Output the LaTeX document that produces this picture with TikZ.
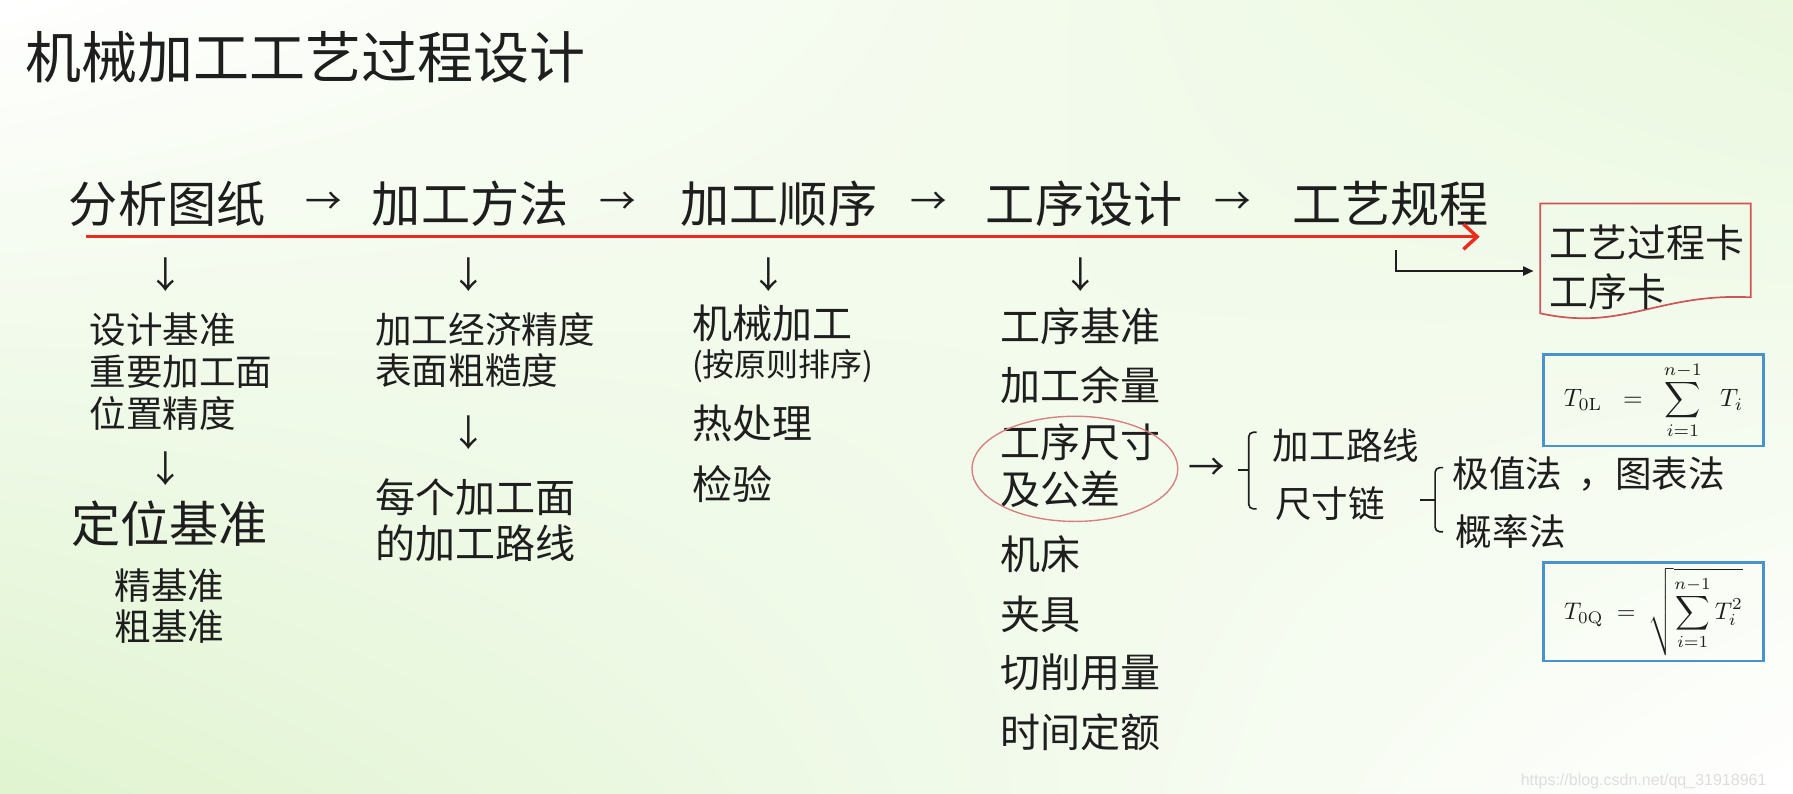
\documentclass[tikz,border=0pt]{standalone}
\usepackage{graphicx}
\usepackage[no-math]{fontspec}
\setmainfont{Noto Sans CJK SC}
\newfontfamily\urlfont{Liberation Sans}
\usetikzlibrary{arrows.meta,shapes.geometric,shadings}

\definecolor{ink}{RGB}{30,30,30}
\definecolor{bggreen}{RGB}{224,244,208}
\definecolor{bgtint}{RGB}{234,248,222}
\definecolor{flowred}{RGB}{236,42,30}
\definecolor{cardred}{RGB}{205,85,85}
\definecolor{ringred}{RGB}{214,128,128}
\definecolor{formblue}{RGB}{72,146,206}

\begin{document}
\begin{tikzpicture}[
  x=1pt, y=-1pt,
  txt/.style={anchor=west, inner sep=0pt, text=ink},
  title/.style={txt, font=\fontsize{49}{56}\selectfont},
  head/.style={txt, font=\fontsize{43}{50}\selectfont},
  mid/.style={txt, font=\fontsize{35}{40}\selectfont},
  item/.style={txt, font=\fontsize{32}{37}\selectfont},
  note/.style={txt, font=\fontsize{28}{32}\selectfont},
  sign/.style={inner sep=0pt, text=ink, font=\fontsize{32}{36}\selectfont},
  flow/.style={draw=flowred, line width=3pt, -{Straight Barb[length=12pt, width=22pt, line width=3pt]}},
  elbow/.style={draw=ink, line width=1.3pt, -{Triangle[length=9pt, width=8pt]}},
  brace/.style={draw=ink, line width=1.4pt, rounded corners=4pt},
  ring/.style={ellipse, draw=ringred, line width=1.2pt, minimum width=180pt, minimum height=92pt, inner sep=0pt},
  formula/.style={draw=formblue, line width=2.2pt, minimum width=192pt, inner sep=0pt, text=ink},
  card/.style={draw=cardred, line width=1.5pt}
]
\useasboundingbox (0,0) rectangle (1568,694);
\shade[upper left=white, upper right=bgtint, lower left=bggreen, lower right=white] (0,0) rectangle (1568,694);

\node[title] (title) at (22,50) {机械加工工艺过程设计};

% main flow
\node[head] (drawing) at (60,178) {分析图纸};
\node[head] (method)  at (325,178) {加工方法};
\node[head] (order)   at (595,178) {加工顺序};
\node[head] (process) at (862,178) {工序设计};
\node[head] (plan)    at (1130,178) {工艺规程};
\node[sign] (next1) at (283,178) {→};
\node[sign] (next2) at (540,178) {→};
\node[sign] (next3) at (812,178) {→};
\node[sign] (next4) at (1078,178) {→};

\coordinate (flowstart) at (75,207);
\coordinate (flowend) at (1294,207);
\draw[flow] (flowstart) -- (flowend);

\node[sign] (down1) at (145,240) {↓};
\node[sign] (down2) at (410,240) {↓};
\node[sign] (down3) at (672,240) {↓};
\node[sign] (down4) at (945,240) {↓};

% datum column
\node[item] (design)   at (78,288) {设计基准};
\node[item] (keyface)  at (78,325) {重要加工面};
\node[item] (position) at (78,362) {位置精度};
\node[sign] (down5) at (145,410) {↓};
\node[head] (locate) at (62,458) {定位基准};
\node[item] (fine)  at (100,512) {精基准};
\node[item] (rough) at (100,548) {粗基准};

% method column
\node[item] (economy)   at (328,288) {加工经济精度};
\node[item] (roughness) at (328,324) {表面粗糙度};
\node[sign] (down6) at (410,378) {↓};
\node[mid] (each)  at (328,435) {每个加工面};
\node[mid] (route) at (328,475) {的加工路线};

% order column
\node[mid]  (machining) at (605,283) {机械加工};
\node[note] (rule)      at (605,320) {(按原则排序)};
\node[mid]  (heat)      at (605,370) {热处理};
\node[mid]  (check)     at (605,423) {检验};

% operation column
\node[mid] (opdatum)  at (875,285) {工序基准};
\node[mid] (allow)    at (875,337) {加工余量};
\node[mid] (opsize)   at (875,387) {工序尺寸};
\node[mid] (optol)    at (875,428) {及公差};
\node[mid] (machine)  at (875,485) {机床};
\node[mid] (fixture)  at (875,537) {夹具};
\node[mid] (cutting)  at (875,588) {切削用量};
\node[mid] (timing)   at (875,640) {时间定额};
\node[ring] (sizering) at (940,410) {};

\node[sign] (next5) at (1055,410) {→};
\draw[brace] (1099,378) -- (1092,378) -- (1092,445) -- (1099,445);
\draw[brace] (1083,411) -- (1092,411);
\node[item] (chainroute) at (1113,390) {加工路线};
\node[item] (chain)      at (1115,440) {尺寸链};

\draw[brace] (1262,409) -- (1255,409) -- (1255,465) -- (1262,465);
\draw[brace] (1242,437) -- (1255,437);
\node[item] (extreme) at (1270,415) {极值法\hspace{.45em}，图表法};
\node[item] (prob)    at (1273,465) {概率法};

% tolerance formulas
\node[formula, minimum height=80pt] (sumtol) at (1446,350)
  {\scalebox{2.2}{$T_{0\mathrm{L}}\;\;=\;\;\displaystyle\sum_{i=1}^{n-1}\;\;T_i$}};
\node[formula, minimum height=86pt] (rsstol) at (1446,535)
  {\scalebox{2.1}{$T_{0\mathrm{Q}}\;=\;\sqrt{\displaystyle\sum_{i=1}^{n-1}T_i^2}$}};

% process card
\draw[card] (1347,178) -- (1531,178) -- (1531,260)
  .. controls (1450,256) and (1420,290) .. (1347,274) -- cycle;
\node[item, font=\fontsize{34}{40}\selectfont] (cardname) at (1355,212) {工艺过程卡};
\node[item, font=\fontsize{34}{40}\selectfont] (opcard)   at (1355,255) {工序卡};
\coordinate (planout) at (1221,219);
\coordinate (cardin) at (1341,237);
\draw[elbow] (planout) |- (cardin);

\node[anchor=east, inner sep=0pt, font=\urlfont\fontsize{14}{16}\selectfont, text=black!13] (mark)
  at (1545,683) {https://blog.csdn.net/qq\_31918961};
\end{tikzpicture}
\end{document}
